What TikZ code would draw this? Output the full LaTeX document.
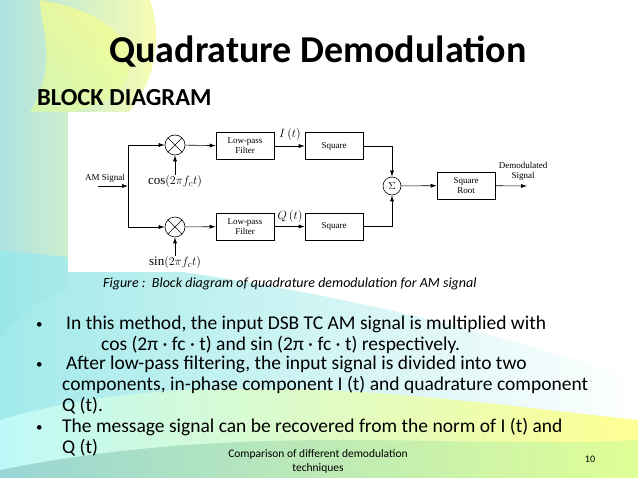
\documentclass[tikz,border=0pt]{standalone}
\usepackage{fontspec}
\setmainfont{Carlito}
\newfontfamily\tnr{Liberation Serif}
\usetikzlibrary{arrows.meta}
\begin{document}
\begin{tikzpicture}[x=1pt,y=-1pt,
  blk/.style={draw,semithick,minimum width=58pt,minimum height=27pt,inner sep=0pt,font=\tnr\fontsize{9}{10}\selectfont,align=center},
  mul/.style={draw,semithick,circle,minimum size=20pt,inner sep=0pt},
  lbl/.style={font=\tnr\fontsize{13}{14}\selectfont,inner sep=1pt},
  sm/.style={font=\tnr\fontsize{9}{10}\selectfont,align=center,inner sep=1pt},
  arr/.style={semithick,-{Latex[length=6pt,width=4pt]}},
  ln/.style={semithick},
  body/.style={font=\fontsize{19.5}{22}\selectfont,anchor=base west,inner sep=0pt},
  bul/.style={font=\fontsize{13}{22}\selectfont,anchor=base west,inner sep=0pt}]
\useasboundingbox (0,0) rectangle (638,478);
\fill[white] (0,0) rectangle (638,478);
% background decoration
\shade[left color=cyan!30!teal!40,right color=yellow!40,opacity=0.8] (0,0) -- (150,0) .. controls (170,60) and (140,130) .. (68,150) -- (68,290) .. controls (30,300) and (10,330) .. (0,340) -- cycle;
\shade[top color=yellow!50,bottom color=green!30!yellow!40,opacity=0.6] (40,0) .. controls (160,20) and (150,100) .. (70,112) -- (30,112) .. controls (60,60) and (40,30) .. (40,0);
\shade[left color=teal!45!cyan!40,right color=white,opacity=0.9] (0,250) .. controls (200,270) and (400,300) .. (638,380) -- (638,478) -- (0,478) -- cycle;
\shade[left color=cyan!20,right color=yellow!60,opacity=0.7] (0,420) .. controls (200,360) and (450,400) .. (638,420) -- (638,478) -- (0,478) -- cycle;
\shade[left color=teal!50,right color=yellow!50!green!40,opacity=0.6] (0,470) .. controls (250,420) and (450,450) .. (638,440) -- (638,478) -- (0,478) -- cycle;
\fill[white] (68,112) rectangle (558,272);
% titles
\node[font=\bfseries\fontsize{38}{42}\selectfont] (title) at (318,52) {Quadrature Demodulation};
\node[font=\bfseries\fontsize{24.5}{28}\selectfont,anchor=west,inner sep=0pt] (sub) at (37,98) {BLOCK DIAGRAM};
% diagram
\coordinate (in) at (98,186);
\coordinate (sp) at (128,186);
\coordinate (spu) at (128,145);
\coordinate (spl) at (128,227);
\node[sm,anchor=south] (amt) at (105,184) {AM Signal};
\node[mul] (m1) at (175,145) {};
\node[mul] (m2) at (175,227) {};
\foreach \m in {m1,m2}{\draw[semithick] (\m.north west)--(\m.south east) (\m.north east)--(\m.south west);}
\node[lbl] (cos) at (175,182) {cos$\left(2\pi f_c t\right)$};
\node[lbl] (sin) at (175,263) {sin$\left(2\pi f_c t\right)$};
\node[blk] (lp1) at (245,146) {Low-pass\\Filter};
\node[blk] (lp2) at (245,226.5) {Low-pass\\Filter};
\node[blk] (sq1) at (334,146) {Square};
\node[blk] (sq2) at (334,226.5) {Square};
\node[mul,minimum size=18pt] (sum) at (392,186) {$\Sigma$};
\node[blk] (sr) at (466,185.5) {Square\\Root};
\coordinate (out) at (527,186);
\node[sm,anchor=south] (dm) at (523,182) {Demodulated\\Signal};
\node[lbl] (it) at (290,135) {$I\left(t\right)$};
\node[lbl] (qt) at (290,217) {$Q\left(t\right)$};
\draw[arr] (in) -- (sp);
\draw[ln] (spu) -- (spl);
\draw[arr] (spu) -- (m1);
\draw[arr] (spl) -- (m2);
\draw[arr] (cos.north) -- (m1);
\draw[arr] (sin.north) -- (m2);
\draw[arr] (m1) -- (lp1);
\draw[arr] (m2) -- (lp2);
\draw[arr] (lp1) -- (sq1);
\draw[arr] (lp2) -- (sq2);
\draw[arr] (sq1.east) -| (sum.north);
\draw[arr] (sq2.east) -| (sum.south);
\draw[arr] (sum) -- (sr);
\draw[arr] (sr) -- (out);
\node[font=\itshape\fontsize{14}{16}\selectfont,anchor=west,inner sep=0pt] (cap) at (103,284) {Figure :\ \ Block diagram of quadrature demodulation for AM signal};
% bullets
\node[bul] (b1) at (36,329) {•};
\node[body] (t1) at (66,330) {In this method, the input DSB TC AM signal is multiplied with};
\node[body] (t1b) at (101,351) {cos (2π · fc · t) and sin (2π · fc · t) respectively.};
\node[bul] (b2) at (36,369) {•};
\node[body] (t2) at (66,370) {After low-pass filtering, the input signal is divided into two};
\node[body] (t2b) at (62,391) {components, in-phase component I (t) and quadrature component};
\node[body] (t2c) at (62,412) {Q (t).};
\node[bul] (b3) at (36,432) {•};
\node[body] (t3) at (62,433) {The message signal can be recovered from the norm of I (t) and};
\node[body] (t3b) at (62,454) {Q (t)};
\node[font=\fontsize{11.5}{14}\selectfont,align=center] (foot) at (318,461) {Comparison of different demodulation\\techniques};
\node[font=\fontsize{10}{11}\selectfont] (pg) at (590,459) {10};
\end{tikzpicture}
\end{document}
